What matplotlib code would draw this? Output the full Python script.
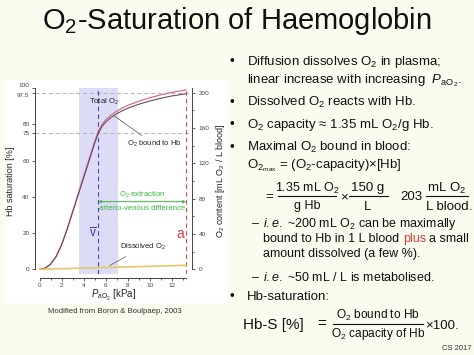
import numpy as np
import matplotlib
matplotlib.use('Agg')
import matplotlib.pyplot as plt
from matplotlib.patches import Rectangle
from matplotlib.lines import Line2D

plt.rcParams['font.family'] = 'Liberation Sans'
plt.rcParams['mathtext.fontset'] = 'custom'
plt.rcParams['mathtext.rm'] = 'Liberation Sans'
plt.rcParams['mathtext.it'] = 'Liberation Sans:italic'
plt.rcParams['mathtext.bf'] = 'Liberation Sans:bold'

# values
po2_kpa = [0, 0.5, 1, 1.5, 2, 2.5, 3, 3.5, 4, 4.5, 5, 5.33, 5.66, 6, 6.5, 7, 7.5, 8,
           9, 10, 11, 12, 13.3]
hb_bound = [0, 0.6, 2.8, 7, 13.5, 22, 31.5, 41, 50.5, 60, 69.5, 75, 78.7, 81.2, 83.8,
            85.8, 87.4, 88.8, 91, 92.8, 94.3, 95.6, 96.8]
total_o2 = [0, 0.7, 3, 7.3, 13.9, 22.5, 32.1, 41.7, 51.3, 60.9, 70.5, 76.1, 79.8, 82.4,
            85.1, 87.2, 88.9, 90.4, 92.7, 94.6, 96.2, 97.6, 98.9]
dissolved_kpa = [0, 13.3]
dissolved_ml = [0, 4.5]

sat_ticks = [0, 20, 40, 60, 75, 80, 97.5, 100]
sat_labels = ['0', '20', '40', '60', '75', '80', '97.5', '100']
content_ticks = [0, 40, 80, 120, 160, 200]
p_venous = 5.33
p_arterial = 13.3
band = (3.55, 7.1)
ml_per_pct = 2.053

W, H = 474, 355
fig = plt.figure(figsize=(W / 100, H / 100), dpi=100)
fig.patch.set_facecolor('#fafcee')


def fx(x):
    return x / W


def fy(y):
    return 1 - y / H


def put(x, y, s, size=9.5, **kw):
    kw.setdefault('va', 'baseline')
    kw.setdefault('color', '#111111')
    return fig.text(fx(x), fy(y), s, fontsize=size, **kw)


# white panel behind the chart
fig.add_artist(Rectangle((fx(5), fy(303)), fx(223), (303 - 80) / H,
                         transform=fig.transFigure, facecolor='white',
                         edgecolor='none', zorder=-5))

ax = fig.add_axes([fx(35), fy(274), fx(157), 186 / H])
ax.set_facecolor('none')
ax.set_xlim(-0.427, 13.85)
ax.set_ylim(-2.6, 100)

ax.axvspan(*band, color='#dcdcf6', zorder=0, lw=0)
ax.axhline(97.5, color='#b0b0b0', ls=(0, (4, 3)), lw=0.7)
ax.axhline(75, color='#b0b0b0', ls=(0, (4, 3)), lw=0.7)
ax.axvline(p_venous, color='#4848b8', ls=(0, (4, 3)), lw=0.8)
ax.axvline(p_arterial, color='#e04848', ls=(0, (4, 3)), lw=0.8)

ax.plot(po2_kpa, total_o2, color='#d4607a', lw=0.8)
ax.plot(po2_kpa, hb_bound, color='#6b4a5e', lw=0.8)

for s in ['top', 'right']:
    ax.spines[s].set_visible(False)
ax.spines['left'].set_bounds(0, 100)
ax.spines['bottom'].set_position(('outward', 3))
ax.spines['bottom'].set_bounds(0, 13.3)
for s in ['left', 'bottom']:
    ax.spines[s].set_linewidth(0.7)
    ax.spines[s].set_color('#444444')

ax.set_yticks(sat_ticks)
ax.set_yticklabels(sat_labels)
ax.set_xticks(range(0, 13, 2))
ax.set_xticks(range(1, 14, 2), minor=True)
ax.tick_params(labelsize=4.6, length=2.5, width=0.6, colors='#444444', pad=1.5)
ax.tick_params(axis='x', pad=1)
ax.tick_params(which='minor', length=1.5, width=0.6, colors='#444444')
ylabs = ax.get_yticklabels()
ylabs[-1].set_va('bottom')
ylabs[-2].set_va('top')

tw = ax.twinx()
tw.set_ylim(-2.6 * ml_per_pct, 100 * ml_per_pct)
tw.plot(dissolved_kpa, dissolved_ml, color='#e8c766', lw=1.2)
for s in ['top', 'left', 'bottom']:
    tw.spines[s].set_visible(False)
tw.spines['right'].set_bounds(0, 100 * ml_per_pct)
tw.spines['right'].set_linewidth(0.7)
tw.spines['right'].set_color('#444444')
tw.set_yticks(content_ticks)
tw.set_yticks(range(20, 201, 40), minor=True)
tw.tick_params(labelsize=4.6, length=2.5, width=0.6, colors='#444444', pad=2.5)
tw.tick_params(which='minor', length=1.5, width=0.6, colors='#444444')

ax.set_ylabel('Hb saturation [%]', fontsize=6.5, labelpad=1.5, color='#222222')
tw.set_ylabel('O$_2$ content [mL O$_2$ / L blood]', fontsize=6.5, labelpad=3,
              color='#222222')
ax.set_xlabel('$P_{\\mathrm{aO}_2}$ [kPa]', fontsize=7, labelpad=0, color='#222222')

# annotations on the chart
ann = dict(fontsize=5.5, color='#222222')
ax.annotate('Total O$_2$', xy=(7.6, 89.5), xytext=(5.85, 92.4), ha='center', va='center',
            arrowprops=dict(arrowstyle='-', lw=0.5, color='#555555', shrinkA=1, shrinkB=0), **ann)
ax.annotate('O$_2$ bound to Hb', xy=(6.75, 84.7), xytext=(10.4, 69), ha='center', va='center',
            arrowprops=dict(arrowstyle='-', lw=0.5, color='#555555', shrinkA=1, shrinkB=0), **ann)
ax.annotate('Dissolved O$_2$', xy=(6.35, 2.0), xytext=(9.35, 12.1), ha='center', va='center',
            arrowprops=dict(arrowstyle='-', lw=0.5, color='#555555', shrinkA=2, shrinkB=0), **ann)

green = '#3cb83c'
ax.text(9.3, 41, 'O$_2$ extraction', ha='center', va='center', fontsize=5.6, color=green)
ax.annotate('', xy=(p_venous, 37.3), xytext=(p_arterial, 37.3),
            arrowprops=dict(arrowstyle='<|-|>', lw=0.7, color=green,
                            mutation_scale=4, shrinkA=0, shrinkB=0))
ax.text(9.3, 33.3, 'arterio-venous difference', ha='center', va='center',
        fontsize=5.6, color=green)
ax.text(4.87, 19.6, '$\\overline{\\mathrm{v}}$', ha='center', va='center',
        fontsize=8.5, color='#3838a8')
ax.text(12.75, 19.6, 'a', ha='center', va='center', fontsize=10, color='#e03c3c')

put(115, 313, 'Modified from Boron & Boulpaep, 2003', 5.6, ha='center', color='#333333')

# title
put(237, 29, 'O$_2$-Saturation of Haemoglobin', 21, ha='center')

# right-hand text
bul = 230
tx = 246.7
put(bul, 65.4, '•', 9.5)
put(tx, 65.4, 'Diffusion dissolves O$_2$ in plasma;')
put(tx, 83, 'linear increase with increasing  $P_{\\mathrm{aO}_2}$.')
put(bul, 105.7, '•', 9.5)
put(tx, 105.7, 'Dissolved O$_2$ reacts with Hb.')
put(bul, 128, '•', 9.5)
put(tx, 128, 'O$_2$ capacity ≈ 1.35 mL O$_2$/g Hb.')
put(bul, 150.7, '•', 9.5)
put(tx, 150.7, 'Maximal O$_2$ bound in blood:')
put(tx, 168.7, 'O$_{2_{\\mathrm{max}}}$ = (O$_2$-capacity)×[Hb]')


def frac(xc, ybar, num, den, half, size=9.5, nb=4.5, db=13.5):
    put(xc, ybar - nb, num, size, ha='center')
    put(xc, ybar + db, den, size, ha='center')
    fig.add_artist(Line2D([fx(xc - half), fx(xc + half)], [fy(ybar), fy(ybar)],
                          transform=fig.transFigure, color='#111111', lw=0.8))


put(269, 200, '=', 9.5, ha='center')
frac(307, 196, '1.35 mL O$_2$', 'g Hb', 29, size=9)
put(343.5, 200, '×', 9.5, ha='center')
frac(368, 196, '150 g', 'L', 19.5)
put(411, 200.5, '203', 9.5, ha='center')
frac(447, 196, 'mL O$_2$', 'L blood', 21)
put(469, 209.5, '.', 9.5)

renderer = fig.canvas.get_renderer()
sub = 263.3
put(251.7, 226.7, '–', 9)
put(sub, 226.7, '$\\mathit{i.e.}$ ~200 mL O$_2$ can be maximally', 9)
t = put(sub, 241.7, 'bound to Hb in 1 L blood', 9)
x1 = t.get_window_extent(renderer).x1
t = put(x1 + 3.3, 241.7, 'plus', 9, color='#e03c3c')
x1 = t.get_window_extent(renderer).x1
put(x1 + 3.3, 241.7, 'a small', 9)
put(sub, 256.7, 'amount dissolved (a few %).', 9)
put(251.7, 281, '–', 9)
put(sub, 281, '$\\mathit{i.e.}$ ~50 mL / L is metabolised.', 9)

put(bul, 300.4, '•', 9.5)
put(tx, 300.4, 'Hb-saturation:')
put(243.3, 328.5, 'Hb-S [%]', 11)
put(322, 328.5, '=', 11, ha='center')
frac(378, 324, 'O$_2$ bound to Hb', 'O$_2$ capacity of Hb', 45, size=8.6, nb=5, db=12.5)
put(425, 329, '×100.', 9.5)

put(472, 350, 'CS 2017', 5.5, ha='right', color='#333333')

fig.savefig('out.png', dpi=100, facecolor=fig.get_facecolor())
